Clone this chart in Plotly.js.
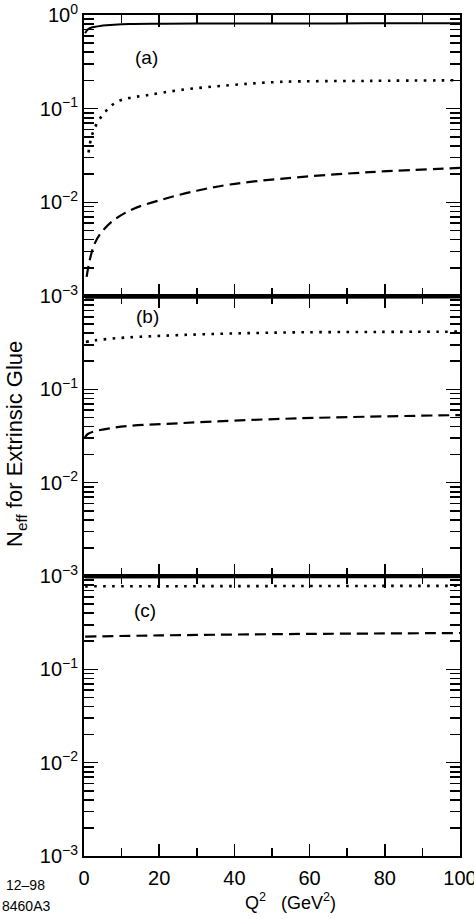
<!DOCTYPE html>
<html>
<head>
<meta charset="utf-8">
<script src="https://cdn.plot.ly/plotly-3.0.1.min.js"></script>
<style>html,body{margin:0;padding:0;background:#fff;}#chart{width:474px;height:919px;}</style>
</head>
<body>
<div id="chart"></div>
<script>
// ---- data (Q^2 in GeV^2, N_eff) ----
const aSolidQ = [0.3, 1, 2, 3, 4.3, 6, 8, 12, 20, 30, 50, 75, 100];
const aSolidN = [0.64, 0.70, 0.735, 0.75, 0.765, 0.778, 0.788, 0.80, 0.806, 0.809, 0.812, 0.814, 0.815];
const aDotQ = [1.2, 2, 3.4, 6, 8.7, 12, 16.7, 25.5, 38.8, 52, 76, 100];
const aDotN = [0.034, 0.05, 0.069, 0.096, 0.118, 0.130, 0.139, 0.158, 0.178, 0.193, 0.198, 0.201];
const aDashQ = [0.7, 1.5, 2.8, 4.3, 7.8, 13.1, 21.1, 30, 38.8, 52, 76, 100];
const aDashN = [0.0016, 0.0024, 0.0036, 0.0046, 0.0064, 0.0085, 0.0108, 0.0133, 0.0155, 0.0178, 0.021, 0.0233];

const bSolidQ = [0.3, 100];
const bSolidN = [0.955, 0.965];
const bDotQ = [0.5, 3, 8.3, 15, 26, 40, 57, 78, 100];
const bDotN = [0.322, 0.335, 0.352, 0.366, 0.382, 0.397, 0.408, 0.412, 0.415];
const bDashQ = [0.2, 1, 8.3, 26, 57, 100];
const bDashN = [0.030, 0.0332, 0.039, 0.0435, 0.0489, 0.053];

const cSolidQ = [0.3, 100];
const cSolidN = [0.965, 0.97];
const cDotQ = [0.3, 100];
const cDotN = [0.775, 0.785];
const cDashQ = [0.3, 20, 50, 100];
const cDashN = [0.224, 0.231, 0.238, 0.245];

// ---- tick labels ----
const xTickVals = [0, 20, 40, 60, 80, 100];
const xTickText = ["0", "20", "40", "60", "80", "100"];
const yTickValsA = [1, 0.1, 0.01, 0.001];
const yTickTextA = ["10<sup>0</sup>", "10<sup>\u22121</sup>", "10<sup>\u22122</sup>", "10<sup>\u22123</sup>"];
const yTickValsBC = [0.1, 0.01, 0.001];
const yTickTextBC = ["10<sup>\u22121</sup>", "10<sup>\u22122</sup>", "10<sup>\u22123</sup>"];

const minorY = [];
[0.001, 0.01, 0.1].forEach(d => { for (let k = 2; k <= 9; k++) minorY.push(k * d); });

const solid = {color: '#000', width: 2};
const dot = {color: '#000', width: 2.6, dash: '2.6px,6.4px'};
const dash = {color: '#000', width: 2.2, dash: '11px,6px'};

function tr(x, y, line, xa, ya) {
  return {x: x, y: y, mode: 'lines', line: Object.assign({shape: 'spline'}, line),
          xaxis: xa, yaxis: ya, showlegend: false, hoverinfo: 'skip'};
}

const data = [
  tr(aSolidQ, aSolidN, solid, 'x3', 'y3'),
  tr(aDotQ, aDotN, dot, 'x3', 'y3'),
  tr(aDashQ, aDashN, dash, 'x3', 'y3'),
  tr(bSolidQ, bSolidN, solid, 'x2', 'y2'),
  tr(bDotQ, bDotN, dot, 'x2', 'y2'),
  tr(bDashQ, bDashN, dash, 'x2', 'y2'),
  tr(cSolidQ, cSolidN, solid, 'x', 'y'),
  tr(cDotQ, cDotN, dot, 'x', 'y'),
  tr(cDashQ, cDashN, dash, 'x', 'y')
];

const fam = 'Liberation Sans, Arial, sans-serif';
const font = {family: fam, size: 20, color: '#000'};

function xa(anchor, labels) {
  return {
    anchor: anchor, range: [0, 100], showgrid: false, zeroline: false,
    showline: true, linewidth: 2, linecolor: '#000', mirror: 'ticks',
    ticks: 'inside', ticklen: 12, tickwidth: 1.6, tickcolor: '#000',
    tickmode: 'array', tickvals: xTickVals, ticktext: xTickText,
    showticklabels: labels, tickfont: font, ticklabeloverflow: 'allow',
    ticklabelstandoff: 3,
    minor: {tickmode: 'linear', tick0: 10, dtick: 20, ticks: 'inside', ticklen: 8, tickwidth: 1.6, tickcolor: '#000'}
  };
}
function ya(anchor, domain, vals, text) {
  return {
    anchor: anchor, domain: domain, type: 'log', range: [-3, 0],
    showgrid: false, zeroline: false,
    showline: true, linewidth: 2, linecolor: '#000', mirror: 'ticks',
    ticks: 'inside', ticklen: 14, tickwidth: 1.6, tickcolor: '#000',
    tickmode: 'array', tickvals: vals, ticktext: text, tickfont: font,
    ticklabeloverflow: 'allow',
    minor: {tickmode: 'array', tickvals: minorY, ticks: 'inside', ticklen: 10, tickwidth: 1.6, tickcolor: '#000'}
  };
}

const L = 84, R = 460, T = 15, B = 856;
const px = v => (v - L) / (R - L);
const py = v => (B - v) / (B - T);
const lab = (t, x, y, size, extra) => Object.assign({text: t, x: px(x), y: py(y), xref: 'paper', yref: 'paper',
  showarrow: false, xanchor: 'center', yanchor: 'middle', font: {family: fam, size: size, color: '#000'}}, extra || {});

const layout = {
  width: 474, height: 919,
  margin: {l: L, r: 474 - R, t: T, b: 919 - B},
  paper_bgcolor: '#fff', plot_bgcolor: '#fff',
  font: font,
  xaxis: xa('y', true),
  xaxis2: Object.assign(xa('y2', false), {matches: 'x'}),
  xaxis3: Object.assign(xa('y3', false), {matches: 'x'}),
  yaxis: ya('x', [0, py(576)], yTickValsBC, yTickTextBC),
  yaxis2: ya('x2', [py(576), py(296)], yTickValsBC, yTickTextBC),
  yaxis3: ya('x3', [py(296), 1], yTickValsA, yTickTextA),
  annotations: [
    lab('(a)', 146, 57, 19),
    lab('(b)', 147, 316, 19),
    lab('(c)', 145, 610, 19),
    lab('Q<sup>2</sup>\u00a0\u00a0\u00a0(GeV<sup>2</sup>)', 290, 901, 18),
    lab('N<sub>eff</sub> for Extrinsic Glue', 16, 444, 22, {textangle: -90}),
    lab('12\u201398', 4, 885, 14, {xanchor: 'left'}),
    lab('8460A3', 0, 906, 14, {xanchor: 'left'})
  ]
};

Plotly.newPlot('chart', data, layout, {displayModeBar: false, staticPlot: true});
</script>
</body>
</html>
